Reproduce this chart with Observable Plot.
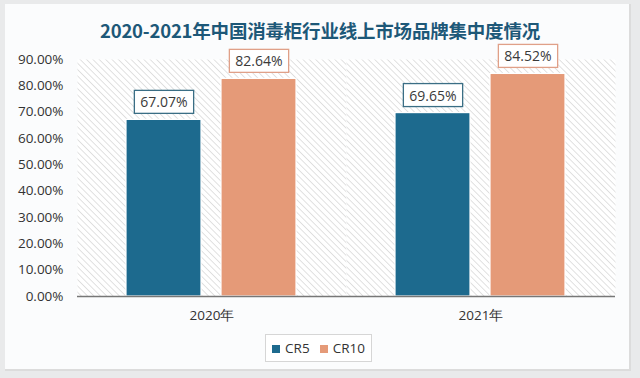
<!DOCTYPE html>
<html><head><meta charset="utf-8">
<script src="https://cdn.jsdelivr.net/npm/d3@7"></script>
<script src="https://cdn.jsdelivr.net/npm/@observablehq/plot@0.6"></script>
<style>
body{margin:0;background:#e9eaeb;font-family:"Open Sans","Noto Sans CJK SC",sans-serif;}
#wrap{position:relative;width:640px;height:378px;overflow:hidden;}
#card{position:absolute;left:5px;top:4px;width:624px;height:365px;background:#fbfcfd;border-right:2px solid #dcdcdc;border-bottom:2px solid #dcdcdc;}
#title{position:absolute;left:0;width:640px;top:17px;text-align:center;font-family:"Noto Sans CJK SC",sans-serif;font-weight:bold;font-size:18.5px;color:#1d5878;letter-spacing:-0.2px;}
#chart{position:absolute;left:0;top:0;}
#legend{position:absolute;left:265px;top:334px;width:107px;height:28px;border:1px solid #d6d6d6;background:#fff;box-sizing:border-box;display:flex;align-items:center;justify-content:center;gap:10px;font-size:13.5px;color:#333;font-family:"Open Sans",sans-serif;}
#legend span.sw{display:inline-block;width:8px;height:8px;margin-right:5px;vertical-align:middle;}
</style></head><body>
<div id="wrap"><div id="card"></div>
<div id="title">2020-2021年中国消毒柜行业线上市场品牌集中度情况</div>
<div id="chart"></div>
<div id="legend"></div>
</div>
<script>
const years = ["2020年", "2021年"];
const series = ["CR5", "CR10"];
const cr5 = [67.07, 69.65];
const cr10 = [82.64, 84.52];
const yTicks = [0,10,20,30,40,50,60,70,80,90];
const colors = ["#1d6a8e", "#e59a78"];
const labelBorders = ["#3a6e85", "#e0a088"];

const data = [];
years.forEach((y,i)=>{
  data.push({year:y, s:"CR5", v:cr5[i]});
  data.push({year:y, s:"CR10", v:cr10[i]});
});

const el = document.getElementById("chart");
const p = Plot.plot({
  width: 640, height: 378,
  marginLeft: 76, marginRight: 25, marginTop: 59, marginBottom: 82,
  style:{background:"transparent", fontFamily:"Open Sans, sans-serif", overflow:"visible"},
  fx:{domain: years, padding: 0, label:null},
  x:{domain: series, paddingInner: 0.21, paddingOuter: 0.52, axis:null},
  y:{domain:[0,90], label:null},
  color:{domain: series, range: colors},
  marks:[
    Plot.frame({fill:"url(#hatch)", stroke:null}),
    Plot.axisY({ticks: yTicks, tickFormat: d=>d.toFixed(2)+"%", tickSize:0, tickPadding:14, fontSize:13.5, fill:"#333", label:null}),
    Plot.axisFx({tickSize:0, tickPadding:14, fontSize:13.5, fill:"#333", label:null, anchor:"bottom"}),
    Plot.barY(data, {fx:"year", x:"s", y:"v", fill:"s", stroke:"#ffffff", strokeWidth:1.2}),
    Plot.ruleY([0], {stroke:"#777", strokeWidth:1.3}),
    Plot.text(data, {fx:"year", x:"s", y:"v", text:d=>d.v.toFixed(2)+"%", dy:-17, fontSize:14, fill:"#3a3a3a", className:"lbl"})
  ]
});
el.appendChild(p);
const svg = d3.select(p);
const defs = svg.insert("defs", ":first-child");
const pat = defs.append("pattern").attr("id","hatch").attr("patternUnits","userSpaceOnUse")
  .attr("width",4.5).attr("height",4.5).attr("patternTransform","rotate(-45)");
pat.append("rect").attr("width",4.5).attr("height",4.5).attr("fill","#ffffff");
pat.append("line").attr("x1",0).attr("y1",0).attr("x2",0).attr("y2",4.5).attr("stroke","#d2d2d2").attr("stroke-width",1.3);
// label boxes
svg.selectAll("g.lbl text").each(function(){
  const t = this; const bb = t.getBBox();
  const txt = t.textContent;
  const idx = data.findIndex(d => d.v.toFixed(2)+"%" === txt);
  const s = data[idx].s;
  d3.select(t.parentNode).insert("rect", function(){return t;})
    .attr("x", bb.x-6).attr("y", bb.y-2).attr("width", bb.width+12).attr("height", bb.height+4)
    .attr("fill","#fff").attr("stroke", labelBorders[series.indexOf(s)]).attr("stroke-width",1.3)
    .attr("transform", t.getAttribute("transform"));
});
const lg = document.getElementById("legend");
series.forEach((s,i)=>{
  const d = document.createElement("div");
  d.innerHTML = `<span class="sw" style="background:${colors[i]}"></span>${s}`;
  lg.appendChild(d);
});
</script>
</body></html>
